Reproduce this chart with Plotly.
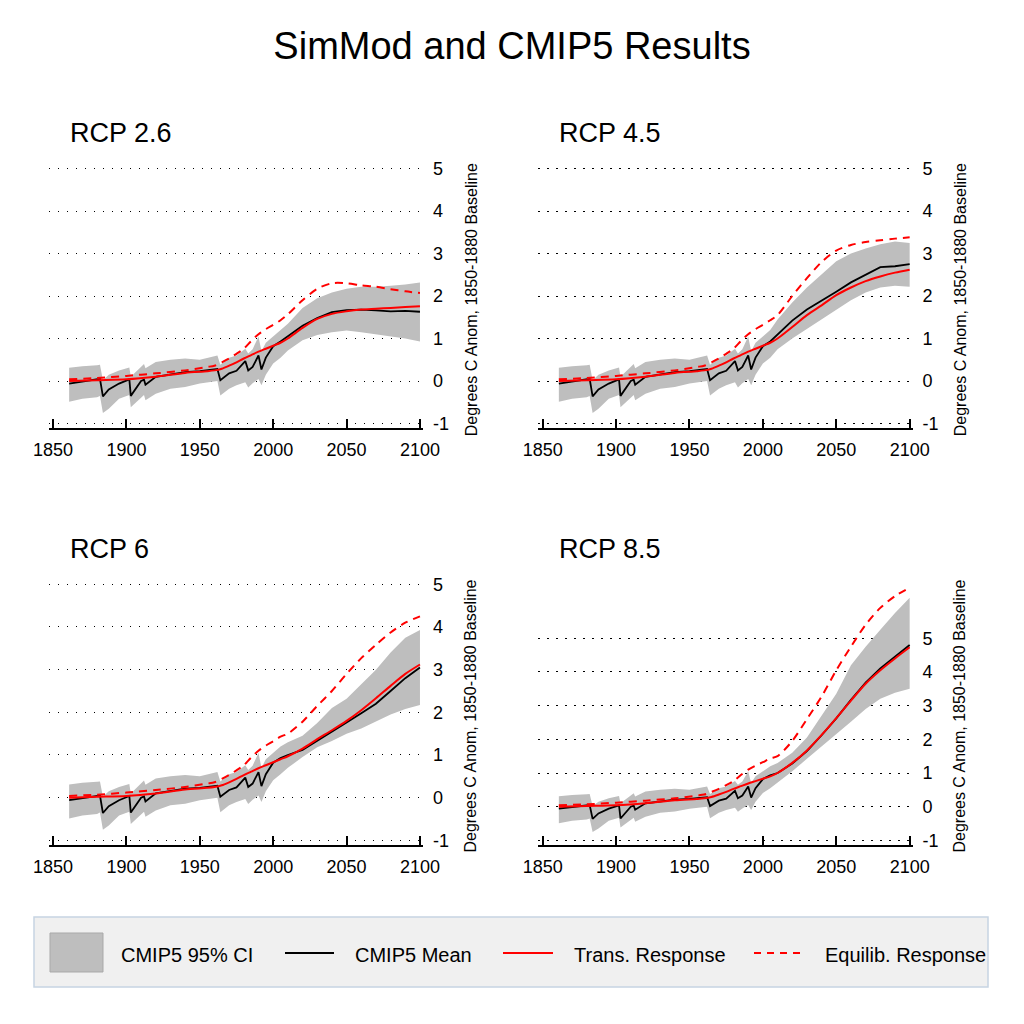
import plotly.graph_objects as go

# ---------------- data ----------------
hist_years = [1861, 1870, 1880, 1882, 1884, 1888, 1895, 1900, 1902, 1903, 1910, 1912, 1913,
              1920, 1930, 1940, 1950, 1960, 1962, 1964, 1970, 1975, 1981, 1983, 1986, 1990,
              1992, 1995, 2000, 2005]
hist_mean = [-0.06, -0.02, 0.03, 0.05, -0.36, -0.2, -0.06, 0.02, 0.04, -0.35, 0.0, 0.03, -0.09,
             0.1, 0.16, 0.21, 0.23, 0.27, 0.28, 0.02, 0.18, 0.24, 0.47, 0.25, 0.33, 0.6,
             0.27, 0.55, 0.82, 0.93]
hist_upper = [0.31, 0.35, 0.37, 0.38, 0.02, 0.15, 0.25, 0.3, 0.32, 0.1, 0.35, 0.4, 0.3,
              0.45, 0.5, 0.53, 0.5, 0.58, 0.6, 0.38, 0.55, 0.6, 0.76, 0.65, 0.75, 1.05,
              0.7, 0.9, 1.05, 1.2]
hist_lower = [-0.49, -0.42, -0.38, -0.35, -0.75, -0.65, -0.42, -0.35, -0.33, -0.62, -0.38, -0.33, -0.45,
              -0.3, -0.18, -0.14, -0.06, -0.02, 0.0, -0.34, -0.18, -0.1, -0.03, -0.15, -0.05, 0.05,
              -0.1, 0.15, 0.41, 0.55]

model_hist_years = [1861, 1880, 1900, 1920, 1940, 1955, 1960, 1965, 1970, 1975, 1980, 1985,
                    1990, 1995, 2000, 2005]
trans_hist = [0.0, 0.02, 0.04, 0.1, 0.19, 0.23, 0.25, 0.29, 0.36, 0.44, 0.53, 0.61,
              0.69, 0.76, 0.83, 0.9]
equil_hist = [0.04, 0.07, 0.12, 0.18, 0.25, 0.33, 0.36, 0.44, 0.53, 0.64, 0.76, 0.94,
              1.1, 1.22, 1.32, 1.43]

future_years = [2010, 2020, 2030, 2040, 2050, 2060, 2070, 2080, 2090, 2100]

scenarios = ["RCP 2.6", "RCP 4.5", "RCP 6", "RCP 8.5"]

mean_26 = [1.05, 1.3, 1.48, 1.62, 1.67, 1.68, 1.66, 1.64, 1.65, 1.63]
upper_26 = [1.35, 1.72, 1.95, 2.08, 2.17, 2.22, 2.22, 2.24, 2.27, 2.32]
lower_26 = [0.72, 0.96, 1.08, 1.15, 1.19, 1.15, 1.1, 1.05, 1.0, 0.93]
trans_26 = [1.0, 1.25, 1.46, 1.58, 1.64, 1.68, 1.7, 1.72, 1.74, 1.76]
equil_26 = [1.57, 1.9, 2.17, 2.3, 2.3, 2.25, 2.22, 2.16, 2.11, 2.07]

mean_45 = [1.1, 1.42, 1.68, 1.88, 2.1, 2.32, 2.5, 2.68, 2.7, 2.75]
upper_45 = [1.45, 1.85, 2.2, 2.5, 2.82, 3.0, 3.12, 3.22, 3.28, 3.25]
lower_45 = [0.75, 1.0, 1.22, 1.45, 1.68, 1.9, 2.08, 2.2, 2.24, 2.22]
trans_45 = [1.0, 1.27, 1.55, 1.78, 2.02, 2.2, 2.35, 2.46, 2.55, 2.62]
equil_45 = [1.55, 2.0, 2.42, 2.8, 3.07, 3.2, 3.27, 3.31, 3.35, 3.38]

mean_60 = [1.0, 1.12, 1.33, 1.53, 1.76, 1.98, 2.2, 2.5, 2.8, 3.05]
upper_60 = [1.3, 1.45, 1.75, 2.1, 2.32, 2.65, 3.0, 3.4, 3.75, 3.93]
lower_60 = [0.7, 0.95, 1.18, 1.33, 1.5, 1.62, 1.78, 1.95, 2.08, 2.17]
trans_60 = [0.97, 1.15, 1.37, 1.58, 1.8, 2.05, 2.33, 2.62, 2.9, 3.12]
equil_60 = [1.5, 1.78, 2.15, 2.5, 2.9, 3.27, 3.58, 3.87, 4.1, 4.25]

mean_85 = [1.0, 1.28, 1.65, 2.12, 2.62, 3.17, 3.68, 4.1, 4.45, 4.8]
upper_85 = [1.3, 1.6, 2.05, 2.7, 3.35, 4.2, 4.75, 5.25, 5.75, 6.2]
lower_85 = [0.72, 1.05, 1.42, 1.78, 2.15, 2.52, 2.9, 3.2, 3.38, 3.5]
trans_85 = [1.0, 1.3, 1.67, 2.13, 2.63, 3.15, 3.65, 4.05, 4.4, 4.73]
equil_85 = [1.5, 1.95, 2.6, 3.27, 4.05, 4.75, 5.4, 5.9, 6.25, 6.5]

x_ticks = [1850, 1900, 1950, 2000, 2050, 2100]
y_ticks = [-1, 0, 1, 2, 3, 4, 5]
y_title = "Degrees C Anom, 1850-1880 Baseline"
legend_labels = ["CMIP5 95% CI", "CMIP5 Mean", "Trans. Response", "Equilib. Response"]

series = {
    "RCP 2.6": (mean_26, upper_26, lower_26, trans_26, equil_26),
    "RCP 4.5": (mean_45, upper_45, lower_45, trans_45, equil_45),
    "RCP 6": (mean_60, upper_60, lower_60, trans_60, equil_60),
    "RCP 8.5": (mean_85, upper_85, lower_85, trans_85, equil_85),
}

# ---------------- layout geometry (pixels) ----------------
W = H = 1024
FONT = "Liberation Sans, Arial, Helvetica, sans-serif"
BAND = "#bebebe"
RED = "#ff0000"


def px(x):
    return x / W


def py(y):
    return 1 - y / H


panels = [
    # name, x-domain px, y-domain px (top, bottom), y-range, title pos, y-title x
    ("RCP 2.6", (48.6, 422.9), (155.75, 427.75), [-1.1, 5.3], (68, 132.5), 471),
    ("RCP 4.5", (538.3, 912.6), (155.75, 427.75), [-1.1, 5.3], (557, 132.5), 960),
    ("RCP 6", (48.6, 422.9), (571.5, 844.6), [-1.1, 5.3], (68, 548.5), 471),
    ("RCP 8.5", (538.3, 912.6), (571.5, 844.6), [-1.125, 6.98], (557, 548.5), 960),
]

fig = go.Figure()
annotations = []
layout_axes = {}

for i, (name, xd, yd, yr, tpos, ytx) in enumerate(panels):
    n = "" if i == 0 else str(i + 1)
    xa, ya = "x" + n, "y" + n
    mean_f, upper_f, lower_f, trans_f, equil_f = series[name]
    yrs = hist_years + future_years
    myrs = model_hist_years + future_years

    fig.add_trace(go.Scatter(x=yrs, y=hist_lower + lower_f, mode="lines",
                             line=dict(width=0, color=BAND), xaxis=xa, yaxis=ya,
                             showlegend=False, hoverinfo="skip"))
    fig.add_trace(go.Scatter(x=yrs, y=hist_upper + upper_f, mode="lines", fill="tonexty",
                             fillcolor=BAND, line=dict(width=0, color=BAND),
                             xaxis=xa, yaxis=ya, showlegend=False, name=legend_labels[0]))
    fig.add_trace(go.Scatter(x=yrs, y=hist_mean + mean_f, mode="lines",
                             line=dict(width=1.8, color="black"), xaxis=xa, yaxis=ya,
                             showlegend=False, name=legend_labels[1]))
    fig.add_trace(go.Scatter(x=myrs, y=trans_hist + trans_f, mode="lines",
                             line=dict(width=2, color=RED, shape="spline", smoothing=0.8),
                             xaxis=xa, yaxis=ya, showlegend=False, name=legend_labels[2]))
    fig.add_trace(go.Scatter(x=myrs, y=equil_hist + equil_f, mode="lines",
                             line=dict(width=2, color=RED, dash="8px,6px", shape="spline",
                                       smoothing=0.8),
                             xaxis=xa, yaxis=ya, showlegend=False, name=legend_labels[3]))

    layout_axes["xaxis" + n] = dict(
        domain=[px(xd[0]), px(xd[1])], range=[1847, 2102], anchor=ya,
        tickvals=x_ticks, ticktext=[str(t) for t in x_ticks],
        showline=True, linecolor="black", linewidth=1.5,
        ticks="inside", ticklen=9, tickwidth=1.5, tickcolor="black",
        showgrid=False, zeroline=False, automargin=False,
        ticklabelstandoff=5,
        tickfont=dict(size=18, color="black", family=FONT),
    )
    layout_axes["yaxis" + n] = dict(
        domain=[py(yd[1]), py(yd[0])], range=yr, anchor=xa, side="right",
        tickvals=y_ticks, ticktext=[str(t) for t in y_ticks],
        showline=False, ticks="", zeroline=False, automargin=False,
        showgrid=True, gridcolor="black", gridwidth=1.2, griddash="1.5px,7.5px",
        ticklabelstandoff=9,
        tickfont=dict(size=18, color="black", family=FONT),
    )
    annotations.append(dict(text=name, x=px(tpos[0]), y=py(tpos[1]), xref="paper", yref="paper",
                            xanchor="left", yanchor="middle", showarrow=False,
                            font=dict(size=27, color="black", family=FONT)))
    annotations.append(dict(text=y_title, x=px(ytx), y=py((yd[0] + yd[1]) / 2 + 8.5),
                            xref="paper", yref="paper", xanchor="center", yanchor="middle",
                            textangle=-90, showarrow=False,
                            font=dict(size=16, color="black", family=FONT)))

# ---------------- legend (drawn in paper space) ----------------
shapes = [
    dict(type="rect", xref="paper", yref="paper", x0=px(34), x1=px(988), y0=py(987), y1=py(917),
         fillcolor="#f0f0f0", line=dict(color="#c6d4e2", width=1.5), layer="below"),
    dict(type="rect", xref="paper", yref="paper", x0=px(50), x1=px(103), y0=py(972), y1=py(933),
         fillcolor=BAND, line=dict(color="#a9a9a9", width=1)),
    dict(type="line", xref="paper", yref="paper", x0=px(285), x1=px(334), y0=py(953), y1=py(953),
         line=dict(color="black", width=2)),
    dict(type="line", xref="paper", yref="paper", x0=px(503), x1=px(553), y0=py(953), y1=py(953),
         line=dict(color=RED, width=2)),
    dict(type="line", xref="paper", yref="paper", x0=px(754), x1=px(805), y0=py(953), y1=py(953),
         line=dict(color=RED, width=2, dash="7px,6px")),
]
for label, lx in zip(legend_labels, [119, 353, 572, 823]):
    annotations.append(dict(text=label, x=px(lx), y=py(955), xref="paper", yref="paper",
                            xanchor="left", yanchor="middle", showarrow=False,
                            font=dict(size=20, color="black", family=FONT)))

fig.update_layout(
    width=W, height=H, autosize=False,
    margin=dict(l=0, r=0, t=0, b=0, pad=0, autoexpand=False),
    paper_bgcolor="white", plot_bgcolor="white",
    title=dict(text="SimMod and CMIP5 Results", x=0.5, xanchor="center",
               y=py(46), yref="container", yanchor="middle",
               font=dict(size=38, color="black", family=FONT)),
    showlegend=False,
    annotations=annotations,
    shapes=shapes,
    **layout_axes,
)

fig.write_html("out.html")
